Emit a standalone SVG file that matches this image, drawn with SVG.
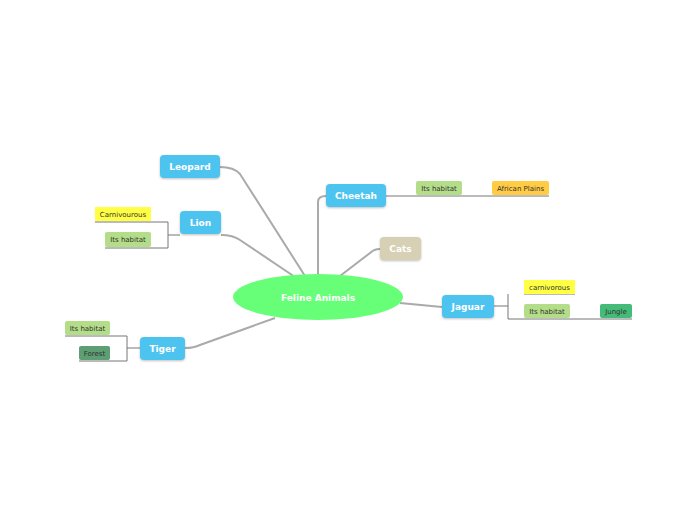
<svg xmlns="http://www.w3.org/2000/svg" width="697" height="520" viewBox="0 0 697 520">
<style>
text{font-family:"DejaVu Sans","Liberation Sans",sans-serif}
.m{fill:#4dc4f0;filter:drop-shadow(0 1px 1px rgba(0,0,0,.25))}
.mt{fill:#fff;font-size:9px;font-weight:bold;text-anchor:middle}
.st{fill:#333;font-size:7px;text-anchor:middle}
.c{fill:none;stroke:#aaa;stroke-width:2}
.b{fill:none;stroke:#777;stroke-width:1}
</style>
<rect width="697" height="520" fill="#fff"/>
<g id="connectors">
<path class="c" d="M305,276 L240,174 Q234,167 220,167" stroke-width="3"/>
<path class="c" d="M295,277 L240,240 Q233,235 221,235"/>
<path class="c" d="M318,274 L318,202 Q318,196 326,196" stroke-width="3"/>
<path class="c" d="M340,276 L370,253 Q374,249 380,249" stroke-width="1.5"/>
<path class="c" d="M400,303 L442,307" stroke-width="1.5"/>
<path class="c" d="M275,318 L200,345 Q194,348 185,348" stroke-width="2"/>
<path class="b" d="M386,196 H549"/>
<path class="b" d="M95,222 H168 V248 H105 M168,235 H180" />
<path class="b" d="M65,336 H127 V361 H79 M127,348 H140"/>
<path class="b" d="M494,306 H508 M524,294 H575 M508,294 V319 H632"/>
</g>
<g id="center"><ellipse cx="318" cy="297" rx="85" ry="23" fill="#66ff77"/><text class="mt" x="318" y="301" font-size="11">Feline Animals</text></g>
<g id="leopard"><rect class="m" x="160" y="155" width="60" height="23" rx="4"/><text class="mt" x="190" y="170">Leopard</text></g>
<g id="lion"><rect class="m" x="180" y="211" width="41" height="23" rx="4"/><text class="mt" x="200.5" y="226">Lion</text></g>
<g id="tiger"><rect class="m" x="140" y="337" width="45" height="23" rx="4"/><text class="mt" x="162.5" y="352">Tiger</text></g>
<g id="cheetah"><rect class="m" x="326" y="184" width="60" height="23" rx="4"/><text class="mt" x="356" y="199">Cheetah</text></g>
<g id="cats"><rect class="m" style="fill:#d7d0b4" x="380" y="237" width="41" height="23" rx="4"/><text class="mt" x="400.5" y="252">Cats</text></g>
<g id="jaguar"><rect class="m" x="442" y="295" width="52" height="23" rx="4"/><text class="mt" x="468" y="310">Jaguar</text></g>
<g id="lion-carn"><rect x="95" y="207" width="56" height="14" fill="#ffff44"/><text class="st" x="123" y="216.5">Carnivourous</text></g>
<g id="lion-hab"><rect x="105" y="232" width="46" height="15" rx="2" fill="#b3dd88"/><text class="st" x="128" y="242">Its habitat</text></g>
<g id="tiger-hab"><rect x="65" y="321" width="45" height="14" rx="2" fill="#b3dd88"/><text class="st" x="87.5" y="331">Its habitat</text></g>
<g id="forest"><rect x="79" y="346" width="31" height="14" rx="2" fill="#5d9e72"/><text class="st" x="94.5" y="356">Forest</text></g>
<g id="cheetah-hab"><rect x="416" y="181" width="46" height="14" rx="2" fill="#b3dd88"/><text class="st" x="439" y="191">Its habitat</text></g>
<g id="plains"><rect x="492" y="181" width="57" height="14" rx="2" fill="#ffcc44"/><text class="st" x="520.5" y="191">African Plains</text></g>
<g id="jag-carn"><rect x="524" y="280" width="51" height="14" fill="#ffff44"/><text class="st" x="549.5" y="290">carnivorous</text></g>
<g id="jag-hab"><rect x="524" y="304" width="46" height="14" rx="2" fill="#b3dd88"/><text class="st" x="547" y="314">Its habitat</text></g>
<g id="jungle"><rect x="600" y="304" width="32" height="14" rx="2" fill="#44bb77"/><text class="st" x="616" y="314">Jungle</text></g>
</svg>
